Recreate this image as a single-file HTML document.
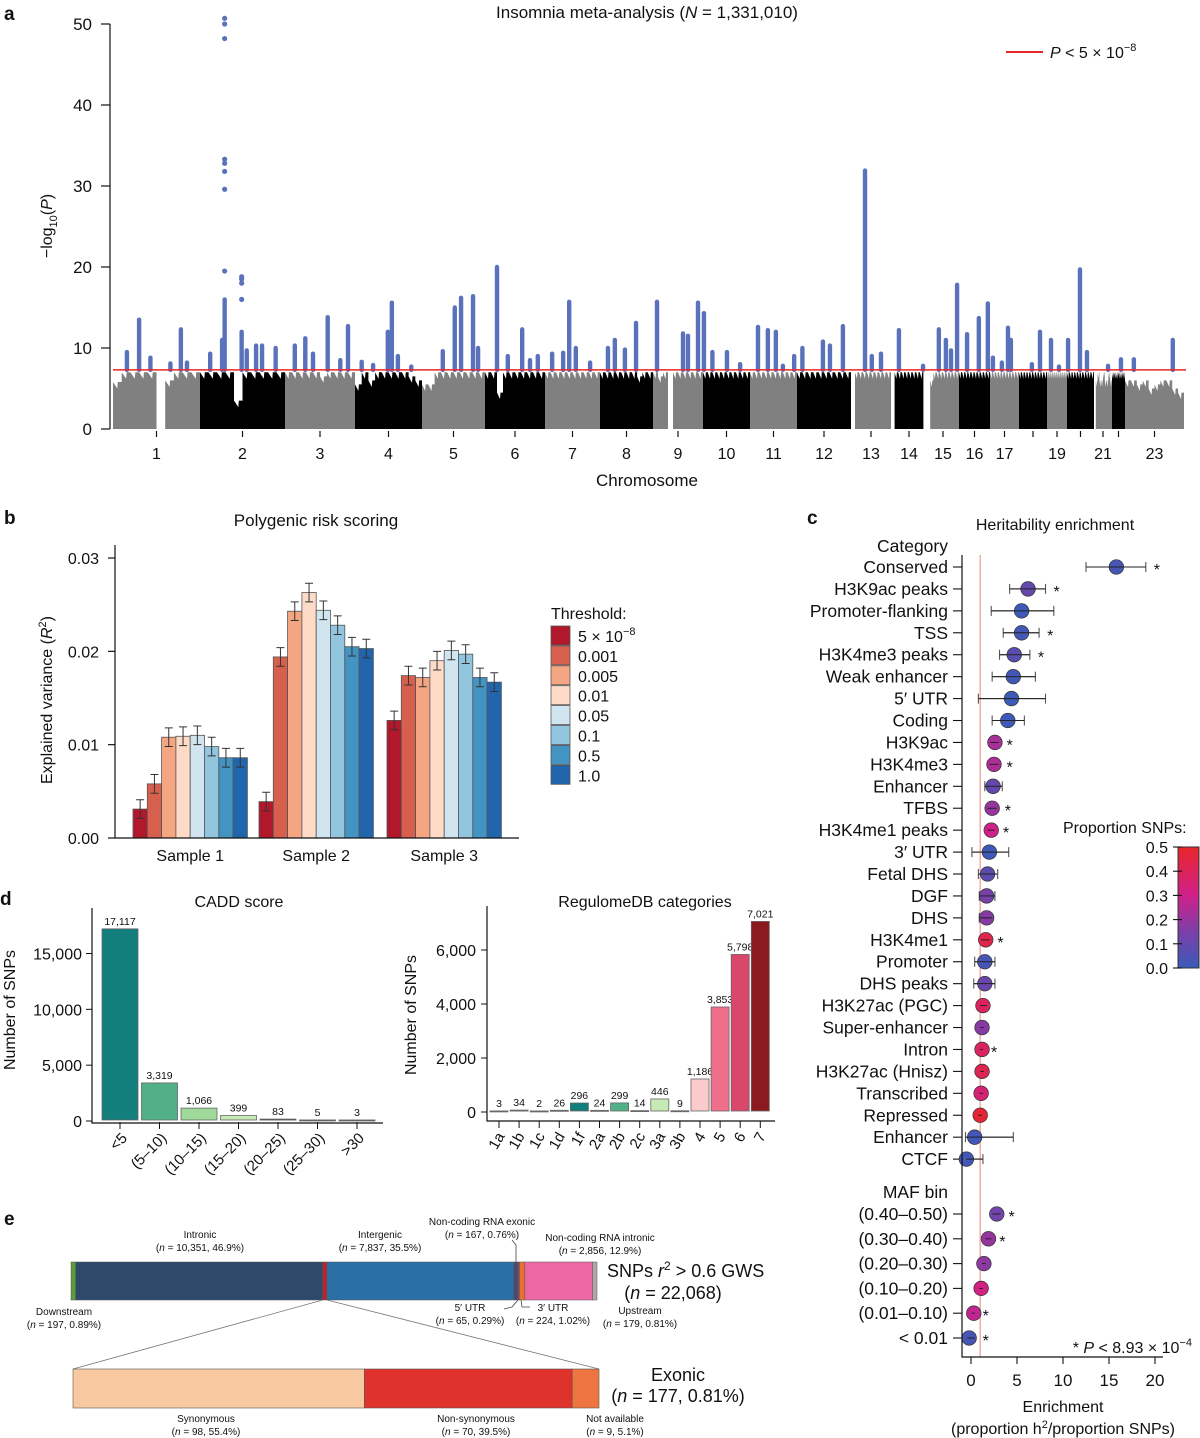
<!DOCTYPE html>
<html><head><meta charset="utf-8"><title>Insomnia GWAS figure</title>
<style>
html,body{margin:0;padding:0;background:#fff;}
svg{display:block;font-family:"Liberation Sans",Arial,sans-serif;}
.t{fill:#111;}
</style></head>
<body>
<svg id="fig" width="1200" height="1438" viewBox="0 0 1200 1438" xmlns="http://www.w3.org/2000/svg">
<text x="4" y="20" font-size="19" font-weight="bold" class="t">a</text>
<text x="4" y="524" font-size="19" font-weight="bold" class="t">b</text>
<text x="807" y="524" font-size="19" font-weight="bold" class="t">c</text>
<text x="0" y="905" font-size="19" font-weight="bold" class="t">d</text>
<text x="4" y="1225" font-size="19" font-weight="bold" class="t">e</text>

<g id="pa">
<text x="647" y="18" font-size="17" text-anchor="middle" class="t">Insomnia meta-analysis (<tspan font-style="italic">N</tspan> = 1,331,010)</text>
<line x1="1006" y1="52" x2="1043" y2="52" stroke="#e8262a" stroke-width="2"/>
<text x="1050" y="58" font-size="16" class="t"><tspan font-style="italic">P</tspan> &lt; 5 × 10<tspan dy="-7" font-size="11">−8</tspan></text>
<text transform="translate(52,226) rotate(-90)" font-size="16" text-anchor="middle" class="t">−log<tspan dy="5" font-size="11">10</tspan><tspan dy="-5">(</tspan><tspan font-style="italic">P</tspan>)</text>
<text x="647" y="486" font-size="17" text-anchor="middle" class="t">Chromosome</text>
</g>

<g id="pb">
<text x="316" y="526" font-size="17" text-anchor="middle" class="t">Polygenic risk scoring</text>
<text transform="translate(52,700) rotate(-90)" font-size="16" text-anchor="middle" class="t">Explained variance (<tspan font-style="italic">R</tspan><tspan dy="-6" font-size="11">2</tspan><tspan dy="6">)</tspan></text>
<text x="551" y="619" font-size="16" class="t">Threshold:</text>
</g>

<g id="pc">
<text x="1055" y="530" font-size="16" text-anchor="middle" class="t">Heritability enrichment</text>
<text x="948" y="552" font-size="17.5" text-anchor="end" class="t">Category</text>
<text x="948" y="1198" font-size="17.5" text-anchor="end" class="t">MAF bin</text>
<text x="1063" y="833" font-size="16" class="t">Proportion SNPs:</text>
<text x="1192" y="1353" font-size="16" text-anchor="end" class="t">* <tspan font-style="italic">P</tspan> &lt; 8.93 × 10<tspan dy="-7" font-size="11">−4</tspan></text>
<text x="1063" y="1412" font-size="16" text-anchor="middle" class="t">Enrichment</text>
<text x="1063" y="1434" font-size="16" text-anchor="middle" class="t">(proportion h<tspan dy="-6" font-size="11">2</tspan><tspan dy="6">/proportion SNPs)</tspan></text>
<defs><linearGradient id="cbar" x1="0" y1="1" x2="0" y2="0">
<stop offset="0" stop-color="#3a5bb8"/><stop offset="0.3" stop-color="#7b3fa8"/><stop offset="0.6" stop-color="#d0208a"/><stop offset="1" stop-color="#e8262a"/></linearGradient></defs>
<rect x="1178" y="847" width="21" height="121" fill="url(#cbar)" stroke="#333" stroke-width="1"/>
</g>

<g id="pd">
<text x="239" y="907" font-size="16" text-anchor="middle" class="t">CADD score</text>
<text transform="translate(15,1010) rotate(-90)" font-size="16" text-anchor="middle" class="t">Number of SNPs</text>
<text x="645" y="907" font-size="16" text-anchor="middle" class="t">RegulomeDB categories</text>
<text transform="translate(416,1015) rotate(-90)" font-size="16" text-anchor="middle" class="t">Number of SNPs</text>
</g>

<g id="pe" font-size="10">
<text x="200" y="1238" text-anchor="middle" class="t">Intronic</text>
<text x="200" y="1251" text-anchor="middle" class="t">(<tspan font-style="italic">n</tspan> = 10,351, 46.9%)</text>
<text x="380" y="1238" text-anchor="middle" class="t">Intergenic</text>
<text x="380" y="1251" text-anchor="middle" class="t">(<tspan font-style="italic">n</tspan> = 7,837, 35.5%)</text>
<text x="482" y="1225" text-anchor="middle" class="t">Non-coding RNA exonic</text>
<text x="482" y="1238" text-anchor="middle" class="t">(<tspan font-style="italic">n</tspan> = 167, 0.76%)</text>
<text x="600" y="1241" text-anchor="middle" class="t">Non-coding RNA intronic</text>
<text x="600" y="1254" text-anchor="middle" class="t">(<tspan font-style="italic">n</tspan> = 2,856, 12.9%)</text>
<text x="64" y="1315" text-anchor="middle" class="t">Downstream</text>
<text x="64" y="1328" text-anchor="middle" class="t">(<tspan font-style="italic">n</tspan> = 197, 0.89%)</text>
<text x="470" y="1311" text-anchor="middle" class="t">5′ UTR</text>
<text x="470" y="1324" text-anchor="middle" class="t">(<tspan font-style="italic">n</tspan> = 65, 0.29%)</text>
<text x="553" y="1311" text-anchor="middle" class="t">3′ UTR</text>
<text x="553" y="1324" text-anchor="middle" class="t">(<tspan font-style="italic">n</tspan> = 224, 1.02%)</text>
<text x="640" y="1314" text-anchor="middle" class="t">Upstream</text>
<text x="640" y="1327" text-anchor="middle" class="t">(<tspan font-style="italic">n</tspan> = 179, 0.81%)</text>
<text x="607" y="1277" font-size="18" class="t">SNPs <tspan font-style="italic">r</tspan><tspan dy="-7" font-size="12">2</tspan><tspan dy="7"> &gt; 0.6 GWS</tspan></text>
<text x="673" y="1299" font-size="18" text-anchor="middle" class="t">(<tspan font-style="italic">n</tspan> = 22,068)</text>
<text x="678" y="1381" font-size="18" text-anchor="middle" class="t">Exonic</text>
<text x="678" y="1402" font-size="18" text-anchor="middle" class="t">(<tspan font-style="italic">n</tspan> = 177, 0.81%)</text>
<text x="206" y="1422" text-anchor="middle" class="t">Synonymous</text>
<text x="206" y="1435" text-anchor="middle" class="t">(<tspan font-style="italic">n</tspan> = 98, 55.4%)</text>
<text x="476" y="1422" text-anchor="middle" class="t">Non-synonymous</text>
<text x="476" y="1435" text-anchor="middle" class="t">(<tspan font-style="italic">n</tspan> = 70, 39.5%)</text>
<text x="615" y="1422" text-anchor="middle" class="t">Not available</text>
<text x="615" y="1435" text-anchor="middle" class="t">(<tspan font-style="italic">n</tspan> = 9, 5.1%)</text>
<polyline points="512,1240 516,1245 516,1262" fill="none" stroke="#444" stroke-width="0.8"/>
<polyline points="504,1309 512,1307 518,1300" fill="none" stroke="#444" stroke-width="0.8"/>
<polyline points="521,1300 522,1307 530,1307" fill="none" stroke="#444" stroke-width="0.8"/>
</g>
</svg>

<script>
// ===== Panel a data =====
const chrNames = ['1','2','3','4','5','6','7','8','9','10','11','12','13','14','15','16','17','18','19','20','21','22','23'];
const chrLengths = [87,85,70,67,63,60,55,53,50,47,47,54,40,36,32,31,29,28,20,27,18,13,59];
const chrProfiles = [
 [5.8,7,7,7,7,0,6,7,7,7],[7,7,7,7,3.5,7,7,7,7,7],[7,7,7,7,7,6.5,7,7,7,7],[5.5,7,6,7,7,7,7,7,6.5,6],
 [5.5,5.5,7,7,7,7,7,7,7,7],[7,7,4.5,7,7,7,7,7,7,7],[7,7,7,7,7,7,7,7,7,7],[7,7,7,7,7,7,7,6.5,7,7],
 [7,6.5,7,0,7,7,7,7,7,7],[7,7,7,7,7,7,7,7,7,7],[7,7,7,7,7,7,7,7,7,7],[7,7,7,7,7,7,7,7,7,7],
 [0,7,7,7,7,7,7,7,7,7],[0,7,7,7,7,7,7,7,7,0],[0,6,7,7,7,7,7,7,7,7],[7,7,7,7,7,7,7,7,7,7],
 [7,7,7,7,7,7,7,7,7,7],[7,7,7,7,7,7,7,7,7,7],[7,7,7,7,7,7,7,7,7,7],[7,7,7,7,7,7,7,7,7,7],
 [0,6,7,6,6,7,6,6,7,6],[7,7,7,7,7,7,7,7,7,7],[6,6,5.5,6,5,5.5,6,6,5,4.5]];
const peakChr =  [1,1,1,1,1,1, 2,2,2,2,2,2,2,2, 3,3,3,3,3,3, 4,4,4,4,4,4, 5,5,5,5,5, 6,6,6,6,6, 7,7,7,7,7, 8,8,8,8, 9,9,9,9, 10,10,10,10, 11,11,11,11,11, 12,12,12,12, 13,13,13, 14,14, 15,15,15,15, 16,16,16, 17,17,17,17, 18,18, 19,19, 20,20,20, 21, 22, 23,23];
const peakFrac = [0.16,0.30,0.43,0.66,0.78,0.85, 0.12,0.26,0.29,0.49,0.55,0.66,0.73,0.89, 0.14,0.29,0.40,0.61,0.79,0.90, 0.10,0.27,0.49,0.55,0.64,0.84, 0.33,0.52,0.62,0.81,0.89, 0.20,0.38,0.62,0.75,0.88, 0.13,0.33,0.44,0.56,0.82, 0.15,0.28,0.47,0.68, 0.08,0.60,0.70,0.90, 0.02,0.20,0.51,0.79, 0.17,0.38,0.55,0.70,0.94, 0.10,0.48,0.61,0.85, 0.35,0.52,0.75, 0.22,0.89, 0.37,0.59,0.75,0.94, 0.26,0.64,0.93, 0.10,0.41,0.62,0.72, 0.46,0.75, 0.20,0.60, 0.04,0.48,0.74, 0.78, 0.69, 0.15,0.81];
const peakHeight = [9.5,13.5,8.8,8.1,12.3,8.2, 9.3,11,16,12,9.7,10.3,10.3,10, 10.3,11.2,9.3,13.8,8.5,12.7, 8.3,7.9,12,15.6,9,7.7, 9.6,15,16.2,16.4,10, 20,9,12.3,8.5,9, 9.3,9.4,15.7,10,8.2, 10,11,9.8,13.1, 15.7,11.8,11.5,15.6, 14.3,9.5,9.5,8, 12.6,12.2,12,7.8,9, 10,10.8,10.3,12.7, 31.9,9,9.3, 12.2,7.8, 12.3,11,9.7,17.8, 11.7,13.7,15.5, 8.8,8.2,12.5,11, 8,12, 11,7.7, 11,19.7,9.5, 7.8, 8.6, 8.6,11];
const extraChr = [2,2,2,2,2,2,2,2,2,2,2,2];
const extraFrac = [0.29,0.29,0.29,0.29,0.29,0.29,0.29,0.29,0.49,0.49,0.49,0.49];
const extraVal = [19.5,29.6,31.8,32.8,33.3,48.2,50.0,50.7,16.0,18.0,18.5,18.8];
const yTicksA = [0,10,20,30,40,50];
const chrLabelShown = ['1','2','3','4','5','6','7','8','9','10','11','12','13','14','15','16','17','','19','','21','','23'];
const thresholdA = 7.3;

// ===== Panel b data =====
const prsSamples = ['Sample 1','Sample 2','Sample 3'];
const prsThresholds = ['5 × 10−8','0.001','0.005','0.01','0.05','0.1','0.5','1.0'];
const prsS1 = [0.0031,0.0058,0.0108,0.0109,0.0110,0.0098,0.0086,0.0086];
const prsS2 = [0.0039,0.0194,0.0243,0.0263,0.0244,0.0228,0.0205,0.0203];
const prsS3 = [0.0126,0.0174,0.0172,0.0190,0.0201,0.0197,0.0172,0.0167];
const prsErr = [0.0010,0.0010,0.0010,0.0010,0.0010,0.0010,0.0010,0.0010];
const prsTicks = [0,0.01,0.02,0.03];
const prsTickLabels = ['0.00','0.01','0.02','0.03'];

// ===== Panel c data =====
const hCats = ['Conserved','H3K9ac peaks','Promoter-flanking','TSS','H3K4me3 peaks','Weak enhancer','5′ UTR','Coding','H3K9ac','H3K4me3','Enhancer','TFBS','H3K4me1 peaks','3′ UTR','Fetal DHS','DGF','DHS','H3K4me1','Promoter','DHS peaks','H3K27ac (PGC)','Super-enhancer','Intron','H3K27ac (Hnisz)','Transcribed','Repressed','Enhancer','CTCF'];
const hEnr = [15.8,6.2,5.5,5.5,4.7,4.6,4.4,4.0,2.6,2.5,2.4,2.3,2.2,2.0,1.8,1.7,1.7,1.6,1.5,1.5,1.3,1.2,1.2,1.2,1.1,1.0,0.4,-0.5];
const hLo = [12.5,4.2,2.2,3.5,3.1,2.3,0.8,2.3,2.1,2.0,1.5,1.8,1.8,0.1,0.8,0.9,0.9,1.1,0.4,0.3,1.0,1.0,1.0,1.0,0.9,0.8,-0.6,-0.5];
const hHi = [19.0,8.1,9.0,7.4,6.4,7.0,8.1,5.8,3.0,3.0,3.4,2.8,2.6,4.1,2.9,2.6,2.3,2.0,2.6,2.6,1.7,1.4,1.3,1.4,1.3,1.2,4.6,1.3];
const hProp = [0.03,0.10,0.01,0.02,0.07,0.02,0.005,0.01,0.23,0.24,0.10,0.20,0.30,0.01,0.08,0.14,0.17,0.43,0.03,0.11,0.39,0.17,0.39,0.42,0.35,0.48,0.02,0.02];
const hStar = [1,1,0,1,1,0,0,0,1,1,0,1,1,0,0,0,0,1,0,0,0,0,1,0,0,0,0,0];
const mafCats = ['(0.40–0.50)','(0.30–0.40)','(0.20–0.30)','(0.10–0.20)','(0.01–0.10)','< 0.01'];
const mafEnr = [2.8,1.9,1.4,1.1,0.3,-0.2];
const mafLo = [2.3,1.6,1.2,0.9,0.1,-0.4];
const mafHi = [3.2,2.2,1.6,1.3,0.4,0.4];
const mafProp = [0.13,0.20,0.18,0.32,0.27,0.03];
const mafStar = [1,1,0,0,1,1];
const hXTicks = [0,5,10,15,20];
const cbTicks = [0,0.1,0.2,0.3,0.4,0.5];

// ===== Panel d data =====
const caddCats = ['<5','(5–10)','(10–15)','(15–20)','(20–25)','(25–30)','>30'];
const caddVals = [17117,3319,1066,399,83,5,3];
const caddLabels = ['17,117','3,319','1,066','399','83','5','3'];
const caddTicks = [0,5000,10000,15000];
const caddTickLabels = ['0','5,000','10,000','15,000'];
const regCats = ['1a','1b','1c','1d','1f','2a','2b','2c','3a','3b','4','5','6','7'];
const regVals = [3,34,2,26,296,24,299,14,446,9,1186,3853,5798,7021];
const regLabels = ['3','34','2','26','296','24','299','14','446','9','1,186','3,853','5,798','7,021'];
const regTicks = [0,2000,4000,6000];
const regTickLabels = ['0','2,000','4,000','6,000'];

// ===== Panel e data =====
const topSegNames = ['downstream','intronic','exonic','intergenic','ncrna-exonic','5utr','3utr','ncrna-intronic','upstream'];
const topSegPct = [0.89,46.9,0.81,35.5,0.76,0.29,1.02,12.9,0.81];
const exSegNames = ['synonymous','non-synonymous','not-available'];
const exSegPct = [55.4,39.5,5.1];

// ================= drawing =================
const NS='http://www.w3.org/2000/svg';
const svg=document.getElementById('fig');
function mk(tag, attrs, parent){const e=document.createElementNS(NS,tag);for(const k in attrs)e.setAttribute(k,attrs[k]);(parent||svg).appendChild(e);return e;}

// ---- Panel a ----
const ga=document.getElementById('pa');
const aX0=113, aX1=1184, aY0=429, aPx=8.1;
const totLen=chrLengths.reduce((a,b)=>a+b,0);
const chrStart=[];{let c=0;for(const l of chrLengths){chrStart.push(c);c+=l;}}
function xA(chr,frac){const i=chr-1;return aX0+(chrStart[i]+frac*chrLengths[i])/totLen*(aX1-aX0);}
function yA(v){return aY0-aPx*v;}
chrProfiles.forEach((prof,i)=>{
  const n=prof.length;let pts=[[xA(i+1,0),yA(0)]];
  prof.forEach((v,j)=>{
    const xa=xA(i+1,j/n), xb=xA(i+1,(j+1)/n), xm=(xa+xb)/2;
    pts.push([xa,yA(v)]);pts.push([xm,yA(Math.max(0,v-0.8))]);pts.push([xm+0.5,yA(v)]);pts.push([xb,yA(v)]);
  });
  pts.push([xA(i+1,1),yA(0)]);
  const p=mk('polygon',{points:pts.map(q=>q[0].toFixed(1)+','+q[1].toFixed(1)).join(' '),fill:(i%2===0)?'#808080':'#000'},ga);
  
  
});
peakChr.forEach((c,k)=>{
  const x=xA(c,peakFrac[k]);
  const l=mk('line',{x1:x,y1:yA(thresholdA),x2:x,y2:yA(peakHeight[k]),stroke:'#5a72bb','stroke-width':4.4,'stroke-linecap':'round'},ga);
  
  
});
extraChr.forEach((c,k)=>{
  const d=mk('circle',{cx:xA(c,extraFrac[k]),cy:yA(extraVal[k]),r:2.6,fill:'#5a72bb'},ga);
  
  
});
{const th=mk('line',{x1:aX0,y1:yA(thresholdA),x2:aX1+2,y2:yA(thresholdA),stroke:'#e8262a','stroke-width':1.6},ga);

}
{const ax=mk('line',{x1:110,y1:yA(50),x2:110,y2:aY0,stroke:'#111','stroke-width':1.2},ga);

}
yTicksA.forEach(v=>{
  const tk=mk('line',{x1:101,y1:yA(v),x2:110,y2:yA(v),stroke:'#111','stroke-width':1.2},ga);
  
  
  const t=mk('text',{x:92,y:yA(v)+6,'font-size':17,'text-anchor':'end',class:'t'},ga);t.textContent=v;
  
  
});
chrNames.forEach((nm,i)=>{
  const x=xA(i+1,0.5);
  const tk=mk('line',{x1:x,y1:431,x2:x,y2:437,stroke:'#111','stroke-width':1.2},ga);
  
  
  if(chrLabelShown[i]){const t=mk('text',{x:x,y:459,'font-size':16,'text-anchor':'middle',class:'t'},ga);t.textContent=chrLabelShown[i];
  
  }
});

// ---- Panel b ----
const gb=document.getElementById('pb');
const bY0=838, bPx=9333, bColors=['#b2182b','#d6604d','#f4a582','#fddbc7','#d1e5f0','#92c5de','#4393c3','#2166ac'];
const groupStart=[133,259,387], barW=14.3;
function yB(v){return bY0-v*bPx;}
[prsS1,prsS2,prsS3].forEach((ser,g)=>{
  ser.forEach((v,j)=>{
    const x=groupStart[g]+j*barW;
    const r=mk('rect',{x:x,y:yB(v),width:barW,height:bY0-yB(v),fill:bColors[j],stroke:'#555','stroke-width':0.8},gb);
    
    
    const cx=x+barW/2, e=prsErr[j];
    const eb=mk('path',{d:`M${cx-4},${yB(v+e)}H${cx+4}M${cx},${yB(v+e)}V${yB(v-e)}M${cx-4},${yB(v-e)}H${cx+4}`,stroke:'#333','stroke-width':1,fill:'none'},gb);
    
    
  });
  const t=mk('text',{x:groupStart[g]+4*barW,y:861,'font-size':16,'text-anchor':'middle',class:'t'},gb);t.textContent=prsSamples[g];
  
  
});
{const a1=mk('path',{d:`M115,545V${bY0}H519`,stroke:'#111','stroke-width':1.2,fill:'none'},gb);

}
prsTicks.forEach((v,i)=>{
  const tk=mk('line',{x1:108,y1:yB(v),x2:115,y2:yB(v),stroke:'#111','stroke-width':1.2},gb);
  
  
  const t=mk('text',{x:99,y:yB(v)+6,'font-size':16,'text-anchor':'end',class:'t'},gb);t.textContent=prsTickLabels[i];
  
  
});
prsThresholds.forEach((nm,j)=>{
  const y=626+j*19.9;
  const s=mk('rect',{x:551,y:y,width:19,height:19,fill:bColors[j],stroke:'#555','stroke-width':0.8},gb);
  
  
  const t=mk('text',{x:578,y:y+16,'font-size':16,class:'t'},gb);
  if(j===0){t.innerHTML='5 × 10<tspan dy="-7" font-size="11">−8</tspan>';}else{t.textContent=nm;}
  
  
});

// ---- Panel c ----
const gc=document.getElementById('pc');
const cX0=971, cPx=9.2, cAxisY=1357;
function xC(v){return cX0+v*cPx;}
function propColor(p){
  const st=[[0,[58,91,184]],[0.15,[123,63,168]],[0.3,[208,32,138]],[0.5,[232,38,42]]];
  p=Math.max(0,Math.min(0.5,p));
  for(let i=0;i<st.length-1;i++){if(p<=st[i+1][0]){const f=(p-st[i][0])/(st[i+1][0]-st[i][0]);const c=st[i][1].map((a,k)=>Math.round(a+(st[i+1][1][k]-a)*f));return `rgb(${c})`;}}
  return 'rgb(232,38,42)';
}
{const rl=mk('line',{x1:xC(1),y1:555,x2:xC(1),y2:cAxisY,stroke:'#f2a79e','stroke-width':1.4},gc);

}
function drawRow(name,y,enr,lo,hi,prop,star){
  const tk=mk('line',{x1:953,y1:y,x2:962,y2:y,stroke:'#111','stroke-width':1.1},gc);
  
  
  const t=mk('text',{x:948,y:y+6,'font-size':17.5,'text-anchor':'end',class:'t'},gc);t.textContent=name;
  
  
  const e=mk('path',{d:`M${xC(lo)},${y-5}V${y+5}M${xC(lo)},${y}H${xC(hi)}M${xC(hi)},${y-5}V${y+5}`,stroke:'#555','stroke-width':1.1,fill:'none'},gc);
  
  
  const c=mk('circle',{cx:xC(enr),cy:y,r:7.3,fill:propColor(prop),stroke:'#333','stroke-width':0.7},gc);
  
  
  const e2=mk('path',{d:`M${xC(lo)},${y}H${xC(hi)}`,stroke:'#222','stroke-width':1,fill:'none'},gc);
  
  
  if(star){const s=mk('text',{x:xC(hi)+8,y:y+8,'font-size':16,class:'t'},gc);s.textContent='*';
  
  }
}
hCats.forEach((nm,i)=>drawRow(nm,567+i*21.93,hEnr[i],hLo[i],hHi[i],hProp[i],hStar[i]));
mafCats.forEach((nm,i)=>drawRow(nm,1214+i*24.8,mafEnr[i],mafLo[i],mafHi[i],mafProp[i],mafStar[i]));
{const ax=mk('path',{d:`M962,555V${cAxisY}H1163`,stroke:'#111','stroke-width':1.2,fill:'none'},gc);

}
hXTicks.forEach(v=>{
  const tk=mk('line',{x1:xC(v),y1:cAxisY,x2:xC(v),y2:cAxisY+7,stroke:'#111','stroke-width':1.1},gc);
  
  
  const t=mk('text',{x:xC(v),y:cAxisY+29,'font-size':17,'text-anchor':'middle',class:'t'},gc);t.textContent=v;
  
  
});
cbTicks.forEach(v=>{
  const y=968-v/0.5*121;
  const tk=mk('line',{x1:1173,y1:y,x2:1182,y2:y,stroke:'#111','stroke-width':1.1},gc);
  
  
  const t=mk('text',{x:1168,y:y+6,'font-size':16,'text-anchor':'end',class:'t'},gc);t.textContent=v.toFixed(1);
  
  
});

// ---- Panel d ----
const gd=document.getElementById('pd');
const caddColors=['#127f7c','#52b088','#a1d99b','#c7e9b4','#333','#555','#555'];
const dY0=1121, dPx=167.5/15000;
function yD(v){return dY0-v*dPx;}
caddVals.forEach((v,i)=>{
  const x=102+i*39.5;
  const r=mk('rect',{x:x,y:yD(v)-1,width:36,height:Math.max(1,dY0-yD(v)),fill:caddColors[i],stroke:'#666','stroke-width':0.8},gd);
  
  
  const t=mk('text',{x:x+18,y:yD(v)-5,'font-size':10.5,'text-anchor':'middle',class:'t'},gd);t.textContent=caddLabels[i];
  
  
  const tk=mk('line',{x1:x+18,y1:dY0+1,x2:x+18,y2:dY0+8,stroke:'#111'},gd);
  
  
  const lb=mk('text',{x:0,y:0,'font-size':15,'text-anchor':'end',class:'t',transform:`translate(${x+26},${dY0+18}) rotate(-45)`},gd);lb.textContent=caddCats[i];
  
  
});
{const ax=mk('path',{d:`M92,908V${dY0+2}H383`,stroke:'#111','stroke-width':1.2,fill:'none'},gd);

}
caddTicks.forEach((v,i)=>{
  const tk=mk('line',{x1:86,y1:yD(v),x2:92,y2:yD(v),stroke:'#111'},gd);
  
  
  const t=mk('text',{x:82,y:yD(v)+6,'font-size':16,'text-anchor':'end',class:'t'},gd);t.textContent=caddTickLabels[i];
  
  
});
const regColors=['#777','#777','#777','#777','#127f7c','#777','#52b088','#777','#c7e9b4','#777','#fbcaca','#ee6f8a','#d9486b','#8b1a1f'];
const rY0=1112, rPx=162/6000;
function yR(v){return rY0-v*rPx;}
regVals.forEach((v,i)=>{
  const x=490+i*20.1;
  const r=mk('rect',{x:x,y:yR(v)-1,width:18,height:Math.max(1,rY0-yR(v)),fill:regColors[i],stroke:'#666','stroke-width':0.8},gd);
  
  
  const t=mk('text',{x:x+9,y:yR(v)-5,'font-size':10.5,'text-anchor':'middle',class:'t'},gd);t.textContent=regLabels[i];
  
  
  const tk=mk('line',{x1:x+9,y1:1121,x2:x+9,y2:1128,stroke:'#111'},gd);
  
  
  const lb=mk('text',{x:0,y:0,'font-size':15,'text-anchor':'end',class:'t',transform:`translate(${x+15},${1136}) rotate(-60)`},gd);lb.textContent=regCats[i];
  
  
});
{const ax=mk('path',{d:'M487,906V1121H775',stroke:'#111','stroke-width':1.2,fill:'none'},gd);

}
regTicks.forEach((v,i)=>{
  const tk=mk('line',{x1:481,y1:yR(v),x2:487,y2:yR(v),stroke:'#111'},gd);
  
  
  const t=mk('text',{x:476,y:yR(v)+6,'font-size':16,'text-anchor':'end',class:'t'},gd);t.textContent=regTickLabels[i];
  
  
});

// ---- Panel e ----
const ge=document.getElementById('pe');
const topColors=['#5a9e3a','#2e4a6b','#c0202a','#2a6fa5','#4a4a70','#7a4a6a','#e87030','#ec67a3','#aaaaaa'];
const exColors=['#f8c9a0','#e0322c','#ef7540'];
const tX0=71,tX1=597,tY=1262,tH=38;
const topTot=topSegPct.reduce((a,b)=>a+b,0);
let cx=tX0, exA=0, exB=0;
topSegPct.forEach((p,i)=>{
  const w=p/topTot*(tX1-tX0);
  const r=mk('rect',{x:cx,y:tY,width:w,height:tH,fill:topColors[i],stroke:'#555','stroke-width':0.5},ge);
  
  
  if(topSegNames[i]==='exonic'){exA=cx;exB=cx+w;}
  cx+=w;
});
{const ln=mk('path',{d:`M${exA},${tY+tH}L73,1369M${exB},${tY+tH}L599,1369`,stroke:'#777','stroke-width':0.8,fill:'none'},ge);

}
const eX0=73,eX1=599,eY=1369,eH=39;
const exTot=exSegPct.reduce((a,b)=>a+b,0);
cx=eX0;
exSegPct.forEach((p,i)=>{
  const w=p/exTot*(eX1-eX0);
  const r=mk('rect',{x:cx,y:eY,width:w,height:eH,fill:exColors[i],stroke:'#555','stroke-width':0.6},ge);
  
  
  cx+=w;
});
</script>
</body></html>
